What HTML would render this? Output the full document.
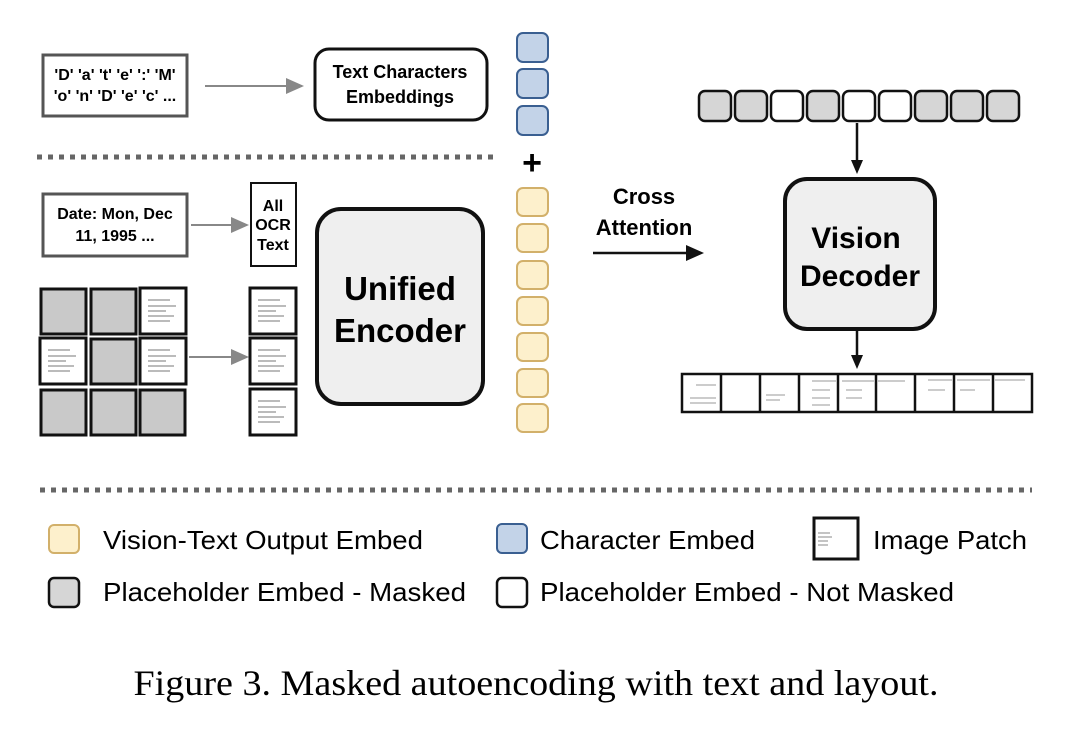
<!DOCTYPE html>
<html><head><meta charset="utf-8"><style>
html,body{margin:0;padding:0;background:#fff;}
svg{display:block;}
.b{font-family:"Liberation Sans",Arial,sans-serif;font-weight:bold;}
.r{font-family:"Liberation Sans",Arial,sans-serif;}
</style></head><body>
<svg width="1072" height="736" viewBox="0 0 1072 736" xmlns="http://www.w3.org/2000/svg">
<defs>
<marker id="ag" markerWidth="18" markerHeight="16" refX="16" refY="8" orient="auto" markerUnits="userSpaceOnUse"><path d="M0,0 L18,8 L0,16 z" fill="#888"/></marker>
<g id="doc">
 <rect x="0" y="0" width="46" height="46" fill="#fff" stroke="#111" stroke-width="3"/>
 <g stroke="#777" stroke-width="1"><line x1="8" y1="12" x2="30" y2="12"/><line x1="8" y1="18" x2="36" y2="18"/><line x1="8" y1="23" x2="26" y2="23"/><line x1="8" y1="28" x2="34" y2="28"/><line x1="8" y1="33" x2="30" y2="33"/></g>
</g>
</defs>

<!-- top row -->
<rect x="43" y="55" width="144" height="61" fill="#fff" stroke="#555" stroke-width="3"/>
<text class="b" x="115" y="80" font-size="16" text-anchor="middle">'D' 'a' 't' 'e' ':' 'M'</text>
<text class="b" x="115" y="101" font-size="16" text-anchor="middle">'o' 'n' 'D' 'e' 'c' ...</text>
<line x1="205" y1="86" x2="302" y2="86" stroke="#888" stroke-width="2" marker-end="url(#ag)"/>
<rect x="315" y="49" width="172" height="71" rx="14" fill="#fff" stroke="#111" stroke-width="3"/>
<text class="b" x="400" y="78" font-size="18" text-anchor="middle">Text Characters</text>
<text class="b" x="400" y="103" font-size="18" text-anchor="middle">Embeddings</text>

<g fill="#c3d3e8" stroke="#3a5f91" stroke-width="2">
<rect x="517" y="33" width="31" height="29" rx="6"/>
<rect x="517" y="69" width="31" height="29" rx="6"/>
<rect x="517" y="106" width="31" height="29" rx="6"/>
</g>
<text class="b" x="532" y="174" font-size="34" text-anchor="middle">+</text>

<line x1="37" y1="157" x2="493" y2="157" stroke="#666" stroke-width="5" stroke-dasharray="5,6"/>

<!-- middle -->
<rect x="43" y="194" width="144" height="62" fill="#fff" stroke="#555" stroke-width="3"/>
<text class="b" x="115" y="219" font-size="16" text-anchor="middle">Date: Mon, Dec</text>
<text class="b" x="115" y="241" font-size="16" text-anchor="middle">11, 1995 ...</text>
<line x1="191" y1="225" x2="247" y2="225" stroke="#888" stroke-width="2" marker-end="url(#ag)"/>
<rect x="251" y="183" width="45" height="83" fill="#fff" stroke="#111" stroke-width="2"/>
<text class="b" x="273" y="211" font-size="16" text-anchor="middle">All</text>
<text class="b" x="273" y="230" font-size="16" text-anchor="middle">OCR</text>
<text class="b" x="273" y="250" font-size="16" text-anchor="middle">Text</text>

<!-- grid -->
<g stroke="#111" stroke-width="3" fill="#c9c9c9">
<rect x="41" y="289" width="45" height="45"/>
<rect x="91" y="289" width="45" height="45"/>
<rect x="91" y="339" width="45" height="45"/>
<rect x="41" y="390" width="45" height="45"/>
<rect x="91" y="390" width="45" height="45"/>
<rect x="140" y="390" width="45" height="45"/>
</g>
<use href="#doc" x="140" y="288"/>
<use href="#doc" x="40" y="338"/>
<use href="#doc" x="140" y="338"/>
<line x1="189" y1="357" x2="247" y2="357" stroke="#888" stroke-width="2" marker-end="url(#ag)"/>
<use href="#doc" x="250" y="288"/>
<use href="#doc" x="250" y="338"/>
<use href="#doc" x="250" y="389"/>

<rect x="317" y="209" width="166" height="195" rx="24" fill="#efefef" stroke="#111" stroke-width="4"/>
<text class="b" x="400" y="300" font-size="33" text-anchor="middle">Unified</text>
<text class="b" x="400" y="342" font-size="33" text-anchor="middle">Encoder</text>

<g fill="#fdf0cc" stroke="#d2b06a" stroke-width="2">
<rect x="517" y="188" width="31" height="28" rx="6"/>
<rect x="517" y="224" width="31" height="28" rx="6"/>
<rect x="517" y="261" width="31" height="28" rx="6"/>
<rect x="517" y="297" width="31" height="28" rx="6"/>
<rect x="517" y="333" width="31" height="28" rx="6"/>
<rect x="517" y="369" width="31" height="28" rx="6"/>
<rect x="517" y="404" width="31" height="28" rx="6"/>
</g>

<text class="b" x="644" y="204" font-size="22" text-anchor="middle">Cross</text>
<text class="b" x="644" y="235" font-size="22" text-anchor="middle">Attention</text>
<line x1="593" y1="253" x2="690" y2="253" stroke="#111" stroke-width="2.5"/>
<path d="M686,245 L704,253 L686,261 z" fill="#111"/>

<!-- decoder -->
<g stroke="#111" stroke-width="2.5">
<rect x="699" y="91" width="32" height="30" rx="6" fill="#d6d6d6"/>
<rect x="735" y="91" width="32" height="30" rx="6" fill="#d6d6d6"/>
<rect x="771" y="91" width="32" height="30" rx="6" fill="#fff"/>
<rect x="807" y="91" width="32" height="30" rx="6" fill="#d6d6d6"/>
<rect x="843" y="91" width="32" height="30" rx="6" fill="#fff"/>
<rect x="879" y="91" width="32" height="30" rx="6" fill="#fff"/>
<rect x="915" y="91" width="32" height="30" rx="6" fill="#d6d6d6"/>
<rect x="951" y="91" width="32" height="30" rx="6" fill="#d6d6d6"/>
<rect x="987" y="91" width="32" height="30" rx="6" fill="#d6d6d6"/>
</g>
<line x1="857" y1="123" x2="857" y2="162" stroke="#111" stroke-width="2.5"/>
<path d="M851,160 L857,174 L863,160 z" fill="#111"/>
<rect x="785" y="179" width="150" height="150" rx="22" fill="#efefef" stroke="#111" stroke-width="4"/>
<text class="b" x="856" y="248" font-size="30" text-anchor="middle">Vision</text>
<text class="b" x="860" y="286" font-size="30" text-anchor="middle">Decoder</text>
<line x1="857" y1="331" x2="857" y2="358" stroke="#111" stroke-width="2.5"/>
<path d="M851,355 L857,369 L863,355 z" fill="#111"/>

<rect x="682" y="374" width="350" height="38" fill="#fff" stroke="#111" stroke-width="2.5"/>
<g stroke="#111" stroke-width="2.5">
<line x1="721" y1="374" x2="721" y2="412"/><line x1="760" y1="374" x2="760" y2="412"/>
<line x1="799" y1="374" x2="799" y2="412"/><line x1="838" y1="374" x2="838" y2="412"/>
<line x1="876" y1="374" x2="876" y2="412"/><line x1="915" y1="374" x2="915" y2="412"/>
<line x1="954" y1="374" x2="954" y2="412"/><line x1="993" y1="374" x2="993" y2="412"/>
</g>
<g stroke="#999" stroke-width="1">
<line x1="696" y1="385" x2="716" y2="385"/><line x1="690" y1="398" x2="716" y2="398"/><line x1="690" y1="403" x2="716" y2="403"/>
<line x1="766" y1="395" x2="785" y2="395"/><line x1="766" y1="400" x2="780" y2="400"/>
<line x1="812" y1="381" x2="836" y2="381"/><line x1="812" y1="390" x2="830" y2="390"/><line x1="812" y1="398" x2="830" y2="398"/><line x1="812" y1="405" x2="830" y2="405"/>
<line x1="842" y1="381" x2="874" y2="381"/><line x1="846" y1="390" x2="862" y2="390"/><line x1="846" y1="398" x2="862" y2="398"/>
<line x1="878" y1="381" x2="905" y2="381"/>
<line x1="928" y1="380" x2="952" y2="380"/><line x1="928" y1="390" x2="945" y2="390"/>
<line x1="957" y1="380" x2="990" y2="380"/><line x1="960" y1="390" x2="975" y2="390"/>
<line x1="995" y1="380" x2="1025" y2="380"/>
</g>

<line x1="40" y1="490" x2="1032" y2="490" stroke="#666" stroke-width="5" stroke-dasharray="5,6"/>

<!-- legend -->
<rect x="49" y="525" width="30" height="28" rx="5" fill="#fdf0cc" stroke="#d2b06a" stroke-width="2"/>
<text class="r" x="103" y="549" font-size="26" textLength="320" lengthAdjust="spacingAndGlyphs">Vision-Text Output Embed</text>
<rect x="497" y="524" width="30" height="29" rx="5" fill="#c3d3e8" stroke="#3a5f91" stroke-width="2"/>
<text class="r" x="540" y="549" font-size="26" textLength="215" lengthAdjust="spacingAndGlyphs">Character Embed</text>
<rect x="814" y="518" width="44" height="41" fill="#fff" stroke="#111" stroke-width="3"/>
<g stroke="#888" stroke-width="1"><line x1="818" y1="533" x2="830" y2="533"/><line x1="818" y1="537" x2="832" y2="537"/><line x1="818" y1="541" x2="828" y2="541"/><line x1="818" y1="545" x2="828" y2="545"/></g>
<text class="r" x="873" y="549" font-size="26" textLength="154" lengthAdjust="spacingAndGlyphs">Image Patch</text>

<rect x="49" y="578" width="30" height="29" rx="5" fill="#d6d6d6" stroke="#111" stroke-width="2.5"/>
<text class="r" x="103" y="601" font-size="26" textLength="363" lengthAdjust="spacingAndGlyphs">Placeholder Embed - Masked</text>
<rect x="497" y="578" width="30" height="29" rx="5" fill="#fff" stroke="#111" stroke-width="2.5"/>
<text class="r" x="540" y="601" font-size="26" textLength="414" lengthAdjust="spacingAndGlyphs">Placeholder Embed - Not Masked</text>

<text x="536" y="695" font-family="'Liberation Serif','Times New Roman',serif" font-size="36" text-anchor="middle" textLength="805" lengthAdjust="spacingAndGlyphs">Figure 3. Masked autoencoding with text and layout.</text>
</svg>
</body></html>
